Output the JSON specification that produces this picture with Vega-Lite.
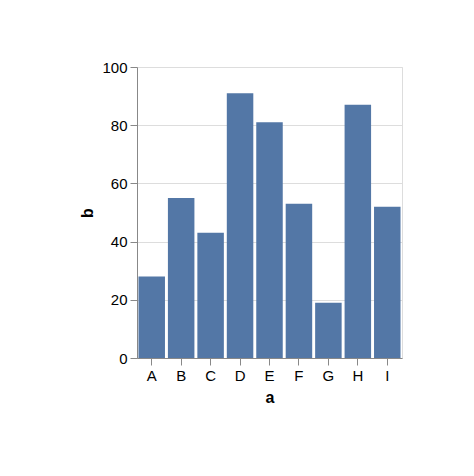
{
  "$schema": "https://vega.github.io/schema/vega-lite/v6.json",
  "autosize": "none",
  "padding": {"left": 137, "top": 67, "right": 72, "bottom": 118},
  "width": 265,
  "height": 291,
  "background": "white",
  "config": {
    "font": "Liberation Sans",
    "axis": {
      "labelFontSize": 15,
      "titleFontSize": 16,
      "tickSize": 7,
      "labelPadding": 3,
      "titlePadding": 6,
      "labelColor": "#000",
      "titleColor": "#000"
    },
    "view": {"stroke": "#ddd"}
  },
  "data": {
    "values": [
      {"a": "A", "b": 28},
      {"a": "B", "b": 55},
      {"a": "C", "b": 43},
      {"a": "D", "b": 91},
      {"a": "E", "b": 81},
      {"a": "F", "b": 53},
      {"a": "G", "b": 19},
      {"a": "H", "b": 87},
      {"a": "I", "b": 52}
    ]
  },
  "mark": {"type": "bar", "color": "#5377a6"},
  "encoding": {
    "x": {"field": "a", "type": "nominal", "axis": {"labelAngle": 0}},
    "y": {"field": "b", "type": "quantitative", "axis": {"tickCount": 5}}
  }
}
